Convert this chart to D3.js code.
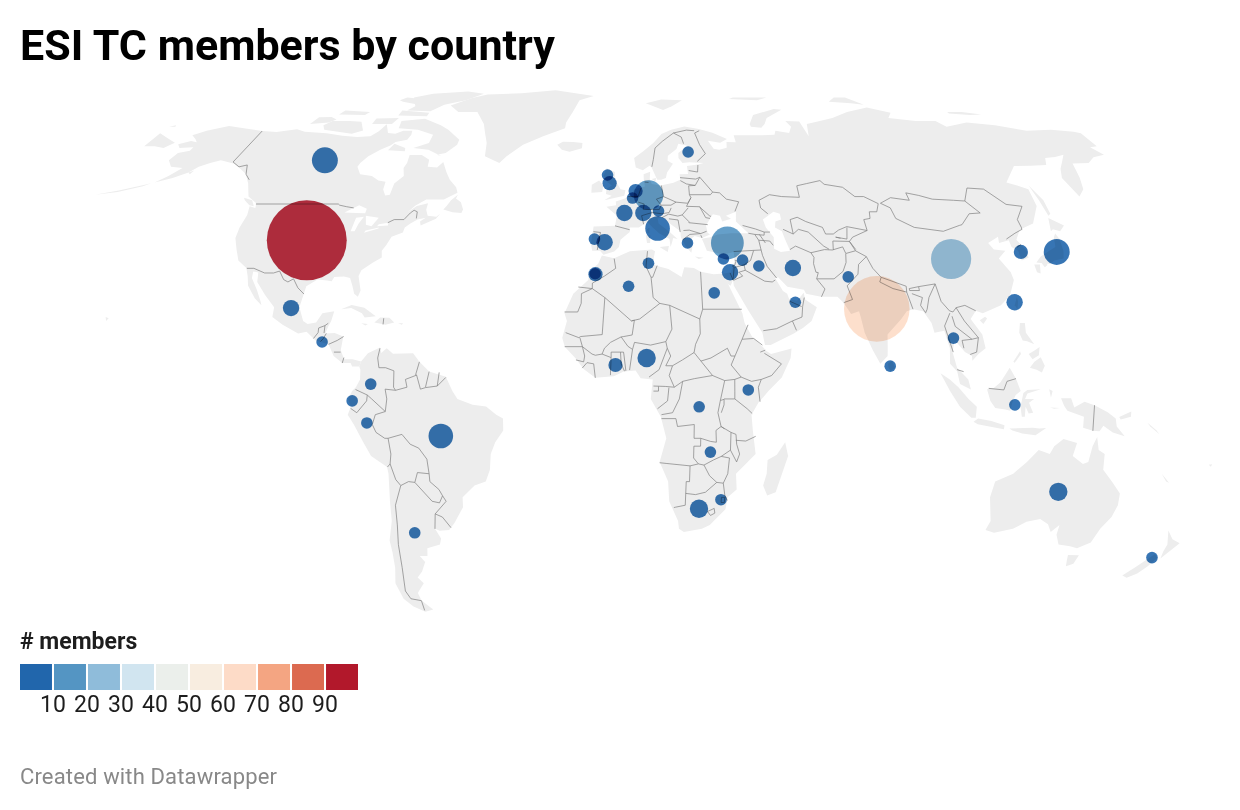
<!DOCTYPE html>
<html>
<head>
<meta charset="utf-8">
<title>ESI TC members by country</title>
<script src="https://cdn.jsdelivr.net/npm/d3@7"></script>
<style>
    html, body { margin: 0; padding: 0; background: #fff; }
    svg { display: block; font-family: Roboto, sans-serif; }
    .land { fill: #ededed; stroke: none; }
    .lake { fill: #fff; stroke: none; }
    .border { fill: none; stroke: #808080; stroke-width: 0.7; stroke-linejoin: round; }
    .bubble { fill-opacity: 0.9; mix-blend-mode: multiply; }
</style>
</head>
<body>
<svg id="map" width="1240" height="810"></svg>
<script>
// bubbles
const countries = ["USA", "India", "China", "Turkey", "Germany", "Canada", "Japan", "Italy", "Brazil",
    "Nigeria", "South Africa", "Iran", "France", "Switzerland", "Spain", "Israel", "Taiwan", "Mexico", "Australia",
    "UK", "Netherlands", "South Korea", "Ghana", "Morocco", "Morocco 2", "Scotland", "Belgium", "Austria", "Portugal",
    "Greece", "Cyprus", "Syria", "Iraq", "Algeria N", "Algeria", "Egypt", "UAE", "Pakistan", "Sri Lanka",
    "Thailand", "Indonesia", "Kenya", "DR Congo", "Zambia", "Eswatini", "Guatemala", "Colombia", "Ecuador", "Peru",
    "Argentina", "New Zealand", "Finland"];
const members = [95, 64, 24, 16, 13, 10, 10, 9, 9,
    5, 5, 4, 4, 4, 4, 4, 4, 4, 5,
    3, 3, 3, 3, 3, 2, 2, 2, 2, 2,
    2, 2, 2, 2, 2, 2, 2, 2, 2, 2,
    2, 2, 2, 2, 2, 2, 2, 2, 2, 2,
    2, 2, 2];
const lons = [-101, 78, 104.4, 34.3, 9.6, -108, 138.7, 12.1, -53.7,
    7.8, 24.3, 54, 1.3, 7.6, -5.1, 34.2, 120.4, -100.3, 134,
    -3.8, 5.2, 127.3, -1.5, -7.8, -7.9, -4.6, 4.1, 12.7, -8.4,
    21.5, 32.5, 38.5, 43.4, 8.8, 2.5, 28.8, 53.4, 70.8, 80.4,
    100, 117.3, 38, 23.4, 27, 30.9, -89.5, -74.3, -79.8, -75.6,
    -65, 172.4, 25.2];
const lats = [39.7, 22.1, 34.9, 39, 51.4, 60.8, 36.7, 42.7, -10.4,
    9.5, -28.9, 32.6, 46.7, 46.7, 39.2, 31.5, 23.8, 22.3, -24.6,
    54.6, 52.5, 36.7, 7.7, 31, 31.1, 56.8, 50.6, 47.2, 40,
    39, 34.9, 34.6, 33.1, 33.8, 27.9, 26.2, 23.8, 30.3, 7.4,
    14.6, -2.5, 1.3, -3, -14.5, -26.6, 13.6, 2.8, -1.5, -7.1,
    -35, -41.4, 63.3];

// legend
const legendTicks = [10, 20, 30, 40, 50, 60, 70, 80, 90];
const legendColors = ["#2166ac", "#5495c3", "#8fbcda", "#d1e5f0", "#ebefeb", "#f8ede0", "#fddbc7", "#f4a582", "#dc6a50", "#b2182b"];

// coastlines as [lon, lat]
const land = [
    // North America
    [[-168,65.6],[-164.5,66.6],[-161.8,66.2],[-163.5,67.1],[-166.5,68.3],[-163,69.7],[-156.5,71.3],[-148,70.4],[-141,69.6],[-135,69.3],[-128,70.2],[-124,69.4],[-115,68.9],[-108,68.2],[-102,67.8],[-97,68],[-95,69.5],[-94,71.9],[-92,70],[-91,69],[-88,68.8],[-85.5,69.7],[-82,69.7],[-81.5,68.5],[-82,67],[-86,66.3],[-87,65.3],[-90,64],[-93,62],[-94.5,60],[-94.8,59],[-92.5,57],[-88,56.5],[-85,55.3],[-82.3,55],[-82,52.9],[-80.5,51.3],[-79,51.5],[-79,54.5],[-76.7,56.5],[-78,58.7],[-77.5,60],[-78,62.4],[-73.5,62.4],[-70,61],[-69.5,59],[-66,58.8],[-64.5,60.3],[-62,57.5],[-60,55.5],[-57,53.5],[-56,52],[-60,50.2],[-66,50.2],[-69,48.6],[-71,46.9],[-68.5,48.5],[-65,49.2],[-65,47.5],[-64,46],[-61,45.7],[-60,46.5],[-61,45.2],[-65.5,43.5],[-66,44.5],[-64.5,45.5],[-67,45],[-69,44],[-70.5,43],[-70.7,41.7],[-74,40.6],[-75,38.5],[-76,37],[-75.5,35.3],[-78,33.9],[-81,32],[-81.5,30.5],[-80,26.8],[-80.5,25.2],[-81.8,26],[-82.8,28],[-84,30],[-86,30.4],[-89,30.3],[-89.5,29.2],[-91,29.4],[-94,29.6],[-97,27.9],[-97.4,25],[-97.8,22.5],[-96,19],[-94.5,18.2],[-92,18.6],[-90.5,21],[-87,21.5],[-87.5,19],[-88.2,17.5],[-88.8,15.8],[-86,15.9],[-83.3,15],[-83.7,11.5],[-82.5,9.2],[-80,9.2],[-77.4,8.6],[-77.9,7.3],[-80,7.3],[-80.5,8.2],[-83,8.2],[-85.7,10],[-87.5,13],[-91.5,14],[-94.5,16.2],[-97,15.8],[-102,18],[-105.5,20],[-105.5,22.5],[-109,25.6],[-112.5,29],[-113,31.4],[-114.7,31.7],[-114.5,30],[-112,27],[-110,24],[-109.5,23],[-112,24.8],[-115,28],[-116,30.5],[-117.2,32.6],[-120.5,34.5],[-122.5,37.5],[-124.3,40.3],[-124.5,43],[-124,46.2],[-124.7,48.4],[-122.5,48],[-123,49.2],[-127,51],[-130,54.5],[-133,57],[-136.5,58.5],[-140,59.8],[-146,60.8],[-149,60],[-152,59],[-154,57.5],[-158,56],[-163,54.8],[-160,56.5],[-157.5,58.7],[-162,59],[-165,60.8],[-164.5,63],[-161,63.7],[-161,64.7],[-166,64.5]],
    // Arctic Canada
    [[-80,73.7],[-72,71.5],[-68,70],[-62,67],[-62,65.5],[-65,63],[-68,62.5],[-66,62],[-72,64],[-78,64.5],[-73,66],[-73,68.5],[-80,70],[-88,70.5],[-89,73]],
    [[-117,70],[-105,68.8],[-101.5,69.8],[-105,72.7],[-110,73],[-117,73],[-119,71.5]],
    [[-90,76.5],[-80,76.3],[-76,78.5],[-68,80],[-62,82.3],[-70,83.1],[-85,82.3],[-92,81],[-88,78]],
    [[-125,72],[-118,72.5],[-116,73.5],[-119,74.3],[-124,74.2]],
    [[-92,74.8],[-80,74.6],[-80,75.8],[-92,76.5]],
    [[-117,75.2],[-106,75],[-105,76],[-116,76.5]],
    [[-95,79.5],[-87,78.5],[-88,80.5],[-95,81],[-97,80]],
    [[-100,72],[-92,72],[-91,74],[-100,73.8]],
    [[-87,63.8],[-80.5,63.5],[-81,64.5],[-86,65.8]],
    [[-59.3,47.6],[-56,46.9],[-53,46.7],[-52.7,47.6],[-54,49.5],[-56,50.5],[-55.7,51.5],[-57.5,50],[-58.5,48.5]],
    [[-128.3,50.7],[-125,50],[-123.3,48.4],[-125,48.7],[-127.5,50]],
    [[-154,57.5],[-152.5,58],[-153,57]],
    [[-164,54.6],[-166,53.8],[-173,52.2],[-180,51.5],[-173,52.6],[-166,54.1]],
    // Chukotka and Wrangel, past the date line
    [[-180,68.9],[-175,67.5],[-170,66.1],[-172,64.5],[-176,65],[-180,65]],
    [[-180,71],[-178,71.5],[-177.5,71]],
    // Greenland, Iceland
    [[-73,78.2],[-68,76],[-60,76],[-55,72],[-53,69],[-51,66],[-50,62],[-44,60],[-42,62],[-37,65.5],[-30,68],[-22,70.5],[-22,72.5],[-20,76],[-18,80],[-12,81.5],[-30,83.5],[-45,82.5],[-60,82],[-66,80.8]],
    [[-24,65.5],[-22,64],[-19,63.4],[-14.5,64.4],[-14.5,66],[-18,66.3],[-22,66.4]],
    // Caribbean, Hawaii
    [[-85,22],[-82,23.1],[-78,22.4],[-74.2,20.2],[-77.5,19.9],[-78.5,21],[-82,22.3]],
    [[-74.4,18.6],[-72.8,19.9],[-70,19.8],[-68.4,18.6],[-71,18],[-72,18.2]],
    [[-78.3,18.4],[-76.3,18.2],[-77,17.8]],
    [[-67.2,18.4],[-65.7,18.4],[-66,18]],
    [[-156,20],[-155,19.7],[-155.6,19]],
    // South America
    [[-77.4,8.6],[-75.5,10.7],[-72,12.2],[-71.5,10.8],[-70,12],[-68,10.6],[-62,10.7],[-60,8.5],[-57,6],[-52,4.7],[-50,1],[-48.5,-1],[-44,-2.5],[-40,-2.9],[-37,-5],[-35,-6],[-35,-9],[-37.5,-12],[-39,-15],[-39.5,-19],[-41,-22],[-44.5,-23],[-48.5,-26],[-48.7,-28.5],[-52,-32.5],[-54,-34.3],[-57,-34.5],[-58.4,-34],[-57,-36.5],[-57.7,-38],[-62,-39],[-62.5,-41],[-65,-41],[-63.7,-42.5],[-65.5,-45],[-67.5,-46.5],[-66,-48],[-69,-50.5],[-68.5,-52.5],[-65.5,-54.8],[-68.5,-55.3],[-72,-54],[-74.5,-52],[-75.5,-48],[-74,-44],[-73.5,-40],[-73.5,-37],[-71.5,-32],[-71,-27],[-70.3,-20],[-70.5,-18.3],[-75,-15.5],[-77,-12],[-79.5,-7.5],[-81.2,-5],[-80.2,-3],[-81,-1],[-79.8,1],[-78.7,2],[-77.5,4],[-77.5,6.5],[-77.9,7.3]],
    // Africa
    [[-5.9,35.8],[-2,35.1],[3,36.9],[10,37.3],[11,36.9],[10.2,34],[11,33.2],[15,32.3],[19,30.3],[20,32.8],[23,32.6],[25,31.6],[29,31],[32.3,31.2],[32.6,29.9],[34,27],[35.5,24],[37,21],[37.5,18.5],[39.5,15],[43,12],[43.3,11.5],[45,10.5],[51.2,11.9],[50.8,9.5],[48,4.5],[44,1],[41,-2],[39,-5],[39.5,-9],[40.6,-15],[35,-20],[35.5,-24],[32.9,-26],[32.5,-29],[28,-33],[25.6,-34],[20,-34.8],[18.4,-34],[18,-32],[15,-27],[14.5,-22],[11.8,-17],[13.7,-11],[12,-5.5],[9,-1],[9.6,4],[6,4.3],[4.5,6.3],[1,6],[-2,4.8],[-7.5,4.4],[-11,6.7],[-13.5,9.5],[-16.7,12.4],[-17.5,14.7],[-16.2,19],[-17,21],[-14.5,26],[-10,29.5],[-9.7,31.7],[-7,33.7]],
    [[49.3,-12],[50.4,-15.5],[47.5,-24.7],[45,-25.5],[43.5,-23],[44.3,-20],[44.3,-16.5],[47,-15.2]],
    // Eurasia
    [[-9,37],[-9.5,38.8],[-8.8,43.2],[-1.8,43.4],[-1.2,46],[-4.7,48.3],[-1.5,48.7],[-1.6,49.7],[1.5,50.5],[3.5,51.4],[4.8,53],[8.5,53.7],[8.2,55.5],[8.2,57],[10.6,57.7],[10.3,55.8],[10.9,54.4],[14,54],[18.5,54.7],[21,55.5],[21,57],[24,57.1],[24,59.2],[28,59.6],[30.2,60],[25,60.2],[22.5,60],[21.3,61.5],[21.5,63],[25.3,65.2],[22,65.8],[21,64.2],[17.5,62.2],[17.2,60.7],[19,59.8],[16.6,57.5],[16,56],[14.3,55.5],[12.9,55.5],[11.2,58.8],[10.5,59.3],[8,58.1],[5.5,58.8],[5,61.5],[8.5,63.5],[12.5,66],[16,68.7],[20,70],[25.5,71.1],[31,70.3],[36,69.1],[41,67.2],[38,66.1],[33.5,66.7],[35,64.3],[37,64],[40,64.6],[40.5,66.3],[44,66.2],[44,68.3],[54,68.3],[60,68.5],[61,69.7],[66,69],[68,71],[67,73],[72.5,72.8],[73,68],[75,72],[80,72.8],[87,74],[95,76],[105,77.5],[113,75.8],[110,74],[120,73],[128,73],[130,71],[140,72.5],[150,71.5],[160,69.7],[170,70],[178,69.4],[180,68.9],[180,65],[177,64.7],[179,62.5],[174,61.7],[170,60],[164,59.9],[163,58],[162,56],[160,53],[156.7,51],[155.7,56],[158,58.5],[161,60.5],[164,62.5],[160,61.8],[156,61.5],[154,59.5],[148,59.3],[142,59.2],[135,54.8],[138,54],[141,53],[140,48.5],[135.5,44],[132,43],[130,42.3],[127.5,39.8],[129.3,37],[129,35.2],[126.5,34.5],[126.6,37],[125,38],[125,39.7],[121.5,39],[122,40.6],[118,39],[119,37.3],[122.5,37],[119.5,35],[121.8,31.5],[122,29.5],[119.5,25.5],[116,23],[113,22],[110,21],[108,21.6],[106,19.5],[108.8,15.5],[109.3,12],[107,10.5],[105,8.8],[105,10],[103,11],[100.9,13.4],[100,13.3],[99.3,11],[100.3,7],[103.5,4],[104.2,1.4],[101,2.8],[100.3,6],[98.3,8],[98.6,12],[97.5,16.5],[94.5,16],[94,18.5],[92,21.5],[89,22],[87,21.5],[85,19.5],[80.3,15.5],[80,12],[79.8,10],[77.5,8],[75.5,11.5],[73.5,16],[72.8,20],[72.5,21.5],[70,20.8],[69,22.3],[68,23.8],[66.5,25.2],[61.5,25.2],[57,26],[56.5,27],[51.5,27.8],[49,30.2],[48,30],[50,26.7],[51.2,26],[51.6,24.6],[54,24.2],[56.3,26.2],[56.5,24.5],[59.8,22.5],[57.8,19],[55,17.2],[52,15.7],[45,12.8],[43.3,12.8],[42.7,16],[39,21.5],[35,28],[34.9,29.5],[34,28],[33.2,28.5],[32.5,30],[32.3,31.2],[34.5,31.5],[36,34.5],[36,36.7],[32.5,36],[30.5,36.5],[27.5,37],[26.5,39.5],[26.2,40.1],[29,40.5],[31.5,41.2],[36,41.5],[41.5,41.5],[38,44.5],[38.5,47],[35,46],[36.5,45.2],[33.5,44.5],[33,46],[30.7,46.4],[28,43.5],[28.3,41.6],[29,41.2],[26.3,40.3],[24,40.8],[23,40.2],[23,38],[22.5,36.5],[21,38],[19.5,40.5],[19.5,42],[15,44.7],[13.7,45.6],[12.3,45.3],[12.5,44],[16,41.8],[18.4,40],[17,40.3],[16.5,39],[16,38],[15.8,40],[12.5,41.5],[10.5,43],[8.8,44.4],[6,43],[3,43],[3,41.8],[0,39.8],[-0.5,38],[-2,36.8],[-5.4,36],[-6.5,37]],
    // Europe islands
    [[-5.5,50],[1.3,51.2],[1.7,52.7],[0,53],[-1.5,55],[-2,56],[-2,57.6],[-5,58.6],[-6,56.5],[-4.8,55],[-3,54],[-4.8,53.2],[-5,51.7],[-3,51.2]],
    [[-10,52],[-6.3,52.2],[-6,54],[-7.5,55.3],[-10,54.2]],
    [[12.5,38],[15.5,38.2],[15,36.7]],
    [[8.2,41],[9.7,41],[9.5,39],[8.5,39]],
    [[8.6,42.5],[9.5,43],[9.4,41.5],[8.8,41.5]],
    [[23.5,35.5],[26.3,35.2],[24.7,34.9]],
    [[32.3,35],[34.5,35.6],[33.5,34.6]],
    [[11,55.7],[12.5,56],[12.3,55]],
    // Arctic Eurasia
    [[52,71],[56,70.7],[58,72],[60,74],[68,76.8],[65,77],[55,75],[52,72]],
    [[91,79.5],[100,79],[105,78.5],[100,81],[95,81]],
    [[11,79],[18,76.7],[22,78],[27,80],[18,80.3]],
    [[48,80.5],[60,80],[65,81],[50,81]],
    [[137,75.5],[145,75],[150,75.2],[143,76],[137,76]],
    // East Asia
    [[142,54],[143.5,50],[143,46.5],[142,46],[142,50]],
    [[140,42],[141.5,45.4],[145.3,43.5],[143,42],[141,42.5]],
    [[130.9,34],[135,33.6],[136.8,34.5],[140,35],[141,37],[141.5,40],[141,41.4],[140,40.5],[139,38],[136.5,37],[133,35.5]],
    [[130,33.5],[131.8,33.5],[131,31.2],[130,31.5]],
    [[132.5,33.8],[134.5,34.2],[134,33.3],[133,32.8]],
    [[120.2,23],[121.5,25.2],[121.5,24],[120.8,22]],
    [[108.7,19.2],[110.5,20.1],[111,19.6],[109.6,18.2]],
    [[79.8,8],[81,8.8],[81.8,7],[80.5,6],[79.9,7]],
    // Philippines, Indonesia, New Guinea
    [[120,16],[120.7,18.5],[122.2,18.5],[122,16],[124,13],[122,13.8],[120.7,14]],
    [[122,7],[123.5,8.5],[125.5,9.7],[126.5,7.5],[125.5,5.8],[124,6.5]],
    [[122,10.5],[124,11.5],[125.5,12.3],[125,10.2],[123,9.2]],
    [[117.2,8.5],[119.5,11.2],[119.7,10.5],[117.6,8.3]],
    [[95.3,5.6],[98,4],[100.5,2],[103.5,-1],[106,-3],[105.8,-5.8],[104.5,-5.8],[101,-3],[98,1],[96.5,3.5]],
    [[105.2,-6.8],[106.5,-6],[110.5,-6.6],[114.5,-7.7],[114.4,-8.7],[110,-8],[106.5,-7.4]],
    [[109,1.5],[111,1.8],[113,3.2],[116,7],[117.7,4.2],[119,1],[117.5,0],[116.5,-2],[116,-4],[114.5,-3.7],[111.5,-3.3],[110,-1.5]],
    [[119.5,-5.5],[119,-3],[119.8,0.5],[121,1.3],[125,1.5],[121,0.4],[120.3,-1],[123,-1],[121.5,-2],[122.8,-4.5],[121.5,-4.7],[120.5,-3],[120.4,-5.5]],
    [[116,-8.5],[123,-8.3],[125,-8.5],[127,-8.4],[124,-10.2],[120,-9.8],[117,-9]],
    [[131,-0.8],[134,-0.8],[135,-3.2],[138,-1.7],[141,-2.6],[145,-4.4],[147.5,-6],[148,-8],[150.7,-10.5],[147,-9.5],[144,-7.8],[143,-9.2],[141,-9.1],[138,-8.3],[138,-5.5],[133,-4],[132,-2.8]],
    [[127.5,1.5],[128.5,1],[128,-0.7]],
    [[127.8,-3.2],[130.8,-3.3],[129,-3.5]],
    [[148.5,-5.6],[152,-4.2],[152,-5.5],[149,-6.2]],
    [[157,-7],[160,-9],[161,-10],[158,-8]],
    [[164,-20],[167,-22.3],[166,-22]],
    [[177.5,-17.7],[178.5,-17.6],[178.3,-18.2]],
    // Australia, New Zealand
    [[114,-22],[113.5,-26],[115.7,-32],[115,-34.3],[118,-35],[123.5,-34],[127,-32.2],[131,-31.5],[134,-32.8],[135.8,-34.8],[137.7,-33],[138,-35.5],[140,-38],[144,-38.5],[146.5,-39],[150,-37.5],[151,-34],[153,-31],[153.6,-28],[153,-25],[149.5,-22],[146,-19],[145.5,-15],[143.5,-14],[142.5,-10.7],[141.5,-13],[141,-17],[139.5,-17.5],[136,-15.5],[136.7,-12.2],[132.5,-11.2],[130,-13],[129,-15],[125.5,-14],[122.5,-17],[119,-20]],
    [[144.7,-40.7],[148.3,-40.8],[148,-43],[146,-43.6],[145.2,-42]],
    [[172.7,-34.4],[175.5,-36.7],[178.5,-37.7],[177,-39.5],[175.3,-41.6],[174.8,-39.8],[174.8,-38]],
    [[172.7,-40.5],[174.2,-41.5],[172.8,-43.7],[171,-45.5],[168.5,-46.6],[166.5,-46],[169,-43.9]]
];

const lakes = [
    [[47,45],[51,47],[53,46.5],[53,45],[51,44.5],[50.5,43],[52.5,42],[53,40],[54,37],[51,36.7],[49,37.5],[49.5,40.5],[47.5,43]],
    [[-92,46.8],[-88,48.7],[-85,47.8],[-85,46.6],[-88,46.7]],
    [[-87.8,42],[-86.5,42],[-86,44],[-85,45.7],[-87.5,45.5]],
    [[-84.5,46],[-80,45.5],[-81.5,43.3],[-83.5,43.7]],
    [[-83.3,41.6],[-79,42.7],[-79,43],[-83,42.2]],
    [[-79.7,43.3],[-76.2,43.5],[-76.3,44.2],[-79.3,43.8]]
];

const borders = [
    // North America
    [[-141,69.6],[-141,60.3],[-137.5,59],[-135,59.5],[-133,57],[-130.5,55.5]],
    [[-123,49],[-95.2,49],[-94.6,48.7],[-92,48.3],[-89.5,48]],
    [[-76.5,44.2],[-74.7,45],[-71.5,45],[-70,46.7],[-69,47.4],[-67.8,47],[-67.5,45.3]],
    [[-117,32.5],[-114.8,32.5],[-111,31.3],[-108.2,31.3],[-106.5,31.8],[-104.5,29.6],[-103,29],[-101.5,29.8],[-99.5,27.5],[-97.2,25.9]],
    [[-92.2,14.5],[-91,16],[-91,17.2],[-89.2,17.8],[-88.3,18.4]],
    [[-89.2,17.8],[-89.2,15.9]],
    [[-88.5,15.8],[-89.3,14.4],[-90,13.7]],
    [[-87.5,13],[-85,14],[-83.2,15]],
    [[-85.7,11],[-83.7,11]],
    [[-83,8.2],[-82.6,9.6]],
    [[-71.7,19.7],[-71.7,18.1]],
    // South America
    [[-72,12],[-72.5,9.5],[-72,7],[-70,7],[-67.5,6.2],[-67.5,2],[-66.9,1.2]],
    [[-66.9,1.2],[-70,1.5],[-69.5,-1],[-70,-4.2]],
    [[-78.8,1.4],[-75.3,0],[-74,-1],[-70,-4.2]],
    [[-75.3,0],[-75.5,-1.5],[-78.5,-4.5],[-80.3,-3.4]],
    [[-70,-4.2],[-73,-5],[-74,-7.5],[-73,-9.5],[-70.5,-11],[-69.5,-11]],
    [[-69.5,-11],[-69,-15],[-69.5,-17.5],[-70.4,-18.3]],
    [[-69.5,-11],[-65.3,-10],[-63,-12.5],[-60.5,-13.5],[-58.3,-16.3],[-58,-20]],
    [[-69.5,-17.5],[-68.3,-21.5],[-67,-23]],
    [[-67,-23],[-64.5,-22],[-62.6,-22.2]],
    [[-62.6,-22.2],[-61.5,-19.7],[-58,-20]],
    [[-62.6,-22.2],[-58,-27],[-55.8,-27.4],[-54.6,-25.6]],
    [[-58,-20],[-58,-22],[-55.5,-24],[-54.6,-25.6]],
    [[-54.6,-25.6],[-53.7,-27],[-57.6,-30.2]],
    [[-57.6,-30.2],[-55.5,-31],[-53.3,-33.7]],
    [[-57.6,-30.2],[-58.4,-34]],
    [[-67,-23],[-69.5,-28],[-70,-33],[-71,-38],[-71.7,-44],[-73,-50],[-72,-52],[-68.6,-52.5],[-68.6,-55]],
    [[-60,8.5],[-61,5.2],[-60.7,5.1],[-64,4],[-63.5,2],[-66.9,1.2]],
    [[-60.7,5.1],[-59.5,1.5],[-58,1.9],[-54.5,2.3],[-52,4.5]],
    [[-57,6],[-58,2]],
    [[-54,5.8],[-54.5,2.3]],
    // Africa
    [[-2,35],[-1.5,32.5],[-5,30.5],[-8.7,28.7],[-8.7,27.3],[-13,27.7]],
    [[-8.7,27.3],[-12,26],[-12,23.5],[-13,21.3],[-17,21.3]],
    [[-8.7,27.3],[-4.8,25],[3.3,19],[4.2,19.2]],
    [[-4.8,25],[-5.5,15.5],[-12,15],[-12.5,14.7],[-16.5,16]],
    [[8.6,36.9],[8,33],[9.5,30.2],[10,25],[12,23.5],[5.8,19.5],[3.3,19]],
    [[11.5,33.2],[10,30.2],[9.5,30.2]],
    [[12,23.5],[15,23],[24,19.5],[25,22],[25,31.6]],
    [[25,22],[36.9,22]],
    [[24,19.5],[24,15.7],[22.5,13],[22,10.9]],
    [[15,23],[15.5,16.9],[13.6,13.7]],
    [[4.2,19.2],[3.5,15.4],[1,15],[0.2,14.9],[-3,13.5],[-4.8,12],[-5.5,10.5]],
    [[-12.2,14.7],[-11.4,12.4],[-8.5,10.5],[-7.5,10.2],[-5.5,10.5],[-2.8,9.6]],
    [[-16.7,12.4],[-11.4,12.4]],
    [[-13.3,9],[-11,8.5],[-10.7,10],[-11.4,12.4]],
    [[-11.4,6.9],[-10,8.3],[-8,8],[-7.5,4.4]],
    [[-3,5.1],[-2.8,9.6],[-2.8,11],[0,11]],
    [[1.2,6.1],[0.2,8],[0,11],[0.9,11]],
    [[1.6,6.2],[1,10.5],[0.9,11]],
    [[2.7,6.4],[3.6,11.7]],
    [[0.2,14.9],[2.2,12.5],[3.6,11.7],[4.2,13.5],[9,12.8],[13.6,13.7]],
    [[13.6,13.7],[14,12],[11.5,6.5],[8.5,4.6]],
    [[14,12],[15,10],[13.5,7.5],[15.5,7.5],[18.5,9],[22,10.9]],
    [[15.5,7.5],[14.5,5],[16,2],[13.3,2.2],[9.8,2.3]],
    [[9.8,1],[11.3,1],[11.3,2.2]],
    [[14.4,1.9],[14,-1.5],[11,-3.5]],
    [[16,2],[18.5,3.5],[17.5,-1],[15.5,-4.5],[12.2,-5]],
    [[18.5,3.5],[22,4.2],[27.4,5],[24,8.7],[22,10.9]],
    [[24,8.7],[27,9.5],[32,12],[33,10],[34.2,10]],
    [[27.4,5],[31,3.7],[34,4],[35.9,4.6],[33,7.7],[34.2,10],[36.5,14.3],[38.5,18]],
    [[36.5,14.3],[40,14.5],[42.5,12.8]],
    [[41.8,11],[43.3,11.5]],
    [[43,10.7],[48,8],[45,5],[41.9,4],[39,3.5],[35.9,4.6]],
    [[41.9,4],[41,2],[41.5,-1.7]],
    [[34,4],[34,1],[34,-1],[37.7,-3.5],[39.2,-4.7]],
    [[31,3.7],[29.7,-1.4],[29,-4.5],[30,-8],[31,-8.6]],
    [[29.7,-1.4],[30.8,-1.1],[30.8,-2.5],[30,-4.5]],
    [[30.8,-1],[34,-1]],
    [[30,-8],[33,-9.5],[33,-14],[30.3,-15.6]],
    [[30,-8],[28.5,-9],[28.7,-12],[27,-11.8],[24,-11],[22,-11]],
    [[12.2,-6],[16.5,-6],[17,-8],[22,-7.5],[22,-11]],
    [[24,-11],[24,-13],[22,-13],[22,-16],[23.5,-17.5],[25.2,-17.8],[28,-16.5],[30.3,-15.6]],
    [[11.8,-17.2],[14,-17.4],[21,-18],[23.5,-17.5]],
    [[21,-18],[21,-22],[20,-22],[20,-28],[17,-28.5],[16.5,-28.6]],
    [[20,-25],[23,-25.3],[26,-24.7],[29.3,-22.2]],
    [[25.2,-17.8],[27,-20.5],[29.3,-22.2],[31.3,-22.4],[32.5,-20],[32.8,-16],[30.3,-15.6]],
    [[31.3,-22.4],[32,-25.5],[32.9,-26.8]],
    [[33,-9.5],[34.5,-10],[34.8,-12.5],[35.8,-15],[35,-17],[33,-14]],
    [[34.5,-11.5],[37.5,-11.7],[40.4,-10.5]],
    [[27,-29.6],[29,-28.8],[29.3,-30],[28,-30.6],[27,-29.6]],
    [[31,-26],[32,-26],[32,-27.3],[31,-27.3],[31,-26]],
    // Middle East, Caucasus
    [[34.2,31.3],[34.9,29.5],[35.6,32.7],[35.1,33.1],[35.8,33.2],[36.5,34.5],[36,34.6]],
    [[36,36.8],[42.4,37.1],[41,34.5],[38.8,33.4],[35.7,32.7]],
    [[38.8,33.4],[39,32],[37,31.5],[38,30.5],[35,29.4]],
    [[39,32],[44.7,29.2],[47,29],[48,29.5]],
    [[48.5,30],[46,33],[45,35.8],[44.8,37.2],[42.4,37.1]],
    [[44.8,37.2],[44.5,39.7],[48,39.5],[48.9,38.4]],
    [[41.5,41.5],[43.5,41.2],[44.5,39.7]],
    [[40,43.5],[44,42.6],[46.7,41.8],[48.6,41.8]],
    [[43.5,41.2],[46.5,41],[46.7,41.8]],
    [[45,41.2],[46.5,39]],
    [[43,16.5],[47,17],[52,19],[53,16.6]],
    [[52,19],[55,20],[55.5,22.7],[56.3,25]],
    [[51.6,24.1],[55.2,22.7]],
    // Central and South Asia
    [[54,37.3],[56,38.2],[60.5,36.5],[61.2,35.3],[60.7,33.7],[61,31.5],[61.7,31.4],[60.9,29.8],[63,27.2],[61.6,25.2]],
    [[60.9,29.8],[66.3,29.8],[69.5,31.7],[71,34],[71.5,36.3],[74.8,37]],
    [[60.5,36.5],[65,37.3],[67.5,37.2],[71,38],[71.5,36.4]],
    [[53,42.5],[56,41.3],[58,42.5],[61,41.8],[65,38.2],[66.5,37.4]],
    [[56,41.3],[56,45],[58.5,45.6],[61,44.5],[66,43],[66.5,41.3],[69,41.3],[71,42.3],[74,43.2],[80.3,42.2]],
    [[74,43],[73,40],[69.5,40.5],[71,40.2]],
    [[67.8,37.2],[68.3,39.5],[73.6,39.4],[75,37.3]],
    [[49,46.5],[47,48],[47,50],[51,51.5],[55,51],[61,50.8],[61.3,53.9],[65,54.5],[70,55.3],[71,54.3],[77,53.5],[80,51],[83,51],[87,49.1]],
    [[87,49.1],[85.5,47],[83,47],[82.5,45.3],[80.3,45],[80.3,42.2],[75,40.5],[73.6,39.4],[74.8,37]],
    [[87.8,49.2],[92,50.7],[98,50],[98,52],[102,51.3],[106,50.3],[113,50],[116.7,49.8],[119.8,46.7],[116,46.5],[112,43.7],[111,43.5],[105,42],[96,43],[91,45.3],[90.5,48],[87.8,49.2]],
    [[116.7,49.8],[120,53.3],[125.5,53],[130,48.9],[135,48.4],[131,45],[131,42.9],[130.7,42.3]],
    [[130.6,42.4],[128,41.5],[124.4,40]],
    [[126.7,37.9],[128.3,38.6]],
    [[74.8,37],[77.8,35.5],[79,32.5],[81,30.2]],
    [[68.2,23.7],[71,24.5],[70,28],[74,31],[74.8,33.5],[77.8,35.5]],
    [[80.3,29],[81,30.2],[88.2,27.9],[88,26.4],[84,27.3],[80.3,29]],
    [[89,27.3],[92,27.8],[92,26.8],[89,26.8],[89,27.3]],
    [[92,27.8],[97.3,28.5],[94.5,25],[93.3,22],[92.6,21]],
    [[88,26.4],[89,22]],
    [[89.5,26],[92.5,25],[91.5,23],[92.6,21.2]],
    [[97.3,28.5],[98,24],[100,21.6],[101,21.3],[102.2,22.4],[105,23],[108,21.6]],
    [[100,21],[97.8,17.7],[99.5,11]],
    [[100.5,20.2],[101,17.6],[105.5,14.3]],
    [[102.2,22.4],[104,19],[107.5,14.7]],
    [[102.8,12],[102.5,14],[105.5,14.3],[107.5,14.7],[106.5,11],[104.5,10.4]],
    [[100.3,6.5],[102.2,6]],
    [[109.5,1.7],[114,1.3],[115,3.5],[117.7,4.2]],
    [[141,-2.6],[141,-9.1]],
    // Europe
    [[31,69.7],[29,69],[30,65.5],[31.5,62.8],[28,60.5]],
    [[24,65.8],[23.5,67.8],[20.7,69],[26,69.9],[29,69.7]],
    [[20.7,69],[16,66.5],[13,64.5],[12,61],[11.3,59]],
    [[28,59.5],[27.5,57.6],[24.4,58]],
    [[21,56.1],[26.5,55.7],[28,56.2]],
    [[21,55.3],[23,54.4],[26,54]],
    [[23.7,53.9],[26,54],[28,56.2],[31.7,52.2],[30.8,51.5],[23.6,51.5],[23.7,53.9]],
    [[14.2,54],[14.7,51],[18.8,49.5],[22.7,49.2],[24,50.7],[23.6,51.5]],
    [[7.1,53.3],[6,51],[2.5,51]],
    [[8.5,54.9],[9.8,54.8]],
    [[6,49.5],[8,49],[7.6,47.6]],
    [[14.7,51],[12.2,50.3],[13.7,48.7],[17,48.7],[18.8,49.5]],
    [[7.6,47.6],[13,47.6],[13.7,48.7]],
    [[17,48],[16.2,46.8],[13.7,46.5],[10.5,46.8],[7,46],[7.6,43.8]],
    [[-1.8,43.4],[3,42.4]],
    [[-8.8,41.9],[-6.5,41.7],[-7,39.5],[-7.4,37.2]],
    [[24,50.7],[22.2,48.4],[26.5,48.3],[29.5,46],[30,45.8]],
    [[31.7,52.2],[34,52],[36,50.3],[40,49.6],[38.2,47.1]],
    [[22.7,48],[20.5,46.2],[22.5,44.5],[22.5,44.2],[28.6,43.7]],
    [[22.4,42.3],[26,41.4],[28,42]],
    [[13.7,45.5],[16,46.4],[19,45.9],[20.5,46.2]],
    [[16,45.2],[19,44.9],[19.4,41.8]],
    [[20.5,42.2],[22.4,42.3]],
    [[20,39.8],[22.5,41.2],[26,41.4]],
    [[26,41],[26.3,40.3]],
    [[26.6,48.3],[28.2,45.5],[29.6,45.3]]
];

// the map fits a Natural Earth width with flatter high latitudes, so y comes from a fitted scale
const xCenter = 620.5, xScale = 221.3;
const latToY = d3.scaleLinear()
    .domain([-60, -54.9, -34.8, 0, 49, 60.3, 69.6, 77.7, 83.6, 90])
    .range([631, 610, 532, 395, 204, 162, 131, 107, 90, 72]);

function project(lon, lat) {
    const raw = d3.geoNaturalEarth1Raw(lon * Math.PI / 180, lat * Math.PI / 180);
    return [xCenter + xScale * raw[0], latToY(lat)];
}

const mapPath = d3.geoPath(d3.geoTransform({
    point(lon, lat) {
        const p = project(lon, lat);
        this.stream.point(p[0], p[1]);
    }
}));

function closeRing(ring) {
    return { type: "Polygon", coordinates: [ring.concat([ring[0]])] };
}

const radius = d3.scaleSqrt().domain([0, 100]).range([0, 41]);
const color = d3.scaleThreshold()
    .domain(legendTicks.map(t => t + 1))
    .range(legendColors);

const svg = d3.select("#map");

svg.append("g").selectAll("path")
    .data(land.map(closeRing))
    .enter().append("path")
    .attr("class", "land")
    .attr("d", mapPath);

svg.append("g").selectAll("path")
    .data(lakes.map(closeRing))
    .enter().append("path")
    .attr("class", "lake")
    .attr("d", mapPath);

svg.append("path")
    .datum({ type: "MultiLineString", coordinates: borders })
    .attr("class", "border")
    .attr("d", mapPath);

svg.append("g").selectAll("circle")
    .data(countries.map((c, i) => ({ name: c, value: members[i], lon: lons[i], lat: lats[i] })))
    .enter().append("circle")
    .attr("class", "bubble")
    .attr("cx", d => project(d.lon, d.lat)[0])
    .attr("cy", d => project(d.lon, d.lat)[1])
    .attr("r", d => radius(d.value))
    .attr("fill", d => color(d.value));

// title, legend, footer
svg.append("text")
    .attr("x", 20).attr("y", 60)
    .attr("font-size", 43).attr("font-weight", 700)
    .attr("fill", "#000")
    .text("ESI TC members by country");

svg.append("text")
    .attr("x", 20).attr("y", 649)
    .attr("font-size", 23).attr("font-weight", 700)
    .attr("fill", "#1d1d1d")
    .text("# members");

const legendX = d3.scaleBand()
    .domain(legendColors)
    .range([20, 358])
    .paddingInner(0.06)
    .paddingOuter(0);

svg.append("g").selectAll("rect")
    .data(legendColors)
    .enter().append("rect")
    .attr("x", d => legendX(d))
    .attr("y", 664)
    .attr("width", legendX.bandwidth())
    .attr("height", 26)
    .attr("fill", d => d);

svg.append("g").selectAll("text")
    .data(legendTicks)
    .enter().append("text")
    .attr("x", (d, i) => legendX(legendColors[i + 1]) - 1)
    .attr("y", 712)
    .attr("text-anchor", "middle")
    .attr("font-size", 23)
    .attr("fill", "#1d1d1d")
    .text(d => d);

svg.append("text")
    .attr("x", 20).attr("y", 784)
    .attr("font-size", 22)
    .attr("letter-spacing", 0.15)
    .attr("fill", "#888")
    .text("Created with Datawrapper");
</script>
</body>
</html>
